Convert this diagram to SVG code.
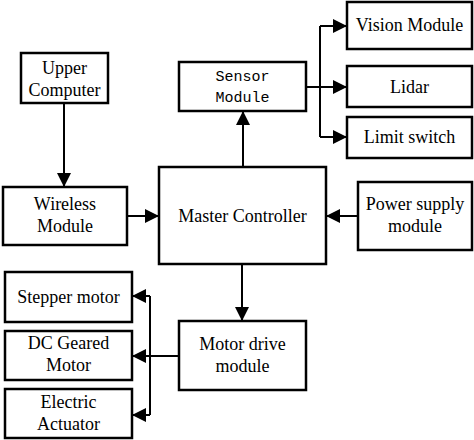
<svg xmlns="http://www.w3.org/2000/svg" width="474" height="440" viewBox="0 0 474 440">
<style>
.box{fill:#fff;stroke:#000;stroke-width:2.5}
.t{font-family:"Liberation Serif","Times New Roman",serif;font-size:18px;text-anchor:middle;fill:#000}
.m{font-family:"Liberation Mono","Courier New",monospace;font-size:15px;text-anchor:middle;fill:#000}
.c{fill:none;stroke:#000;stroke-width:2}
</style>
<defs>
<marker id="ah" viewBox="0 0 10 10" refX="10" refY="5" markerWidth="16" markerHeight="14" markerUnits="userSpaceOnUse" orient="auto">
<path d="M0,0 L10,5 L0,10 z" fill="#000"/>
</marker>
</defs>
<rect width="474" height="440" fill="#fff"/>
<g id="connectors">
<line class="c" x1="64" y1="103" x2="64" y2="187" marker-end="url(#ah)"/>
<line class="c" x1="127" y1="216" x2="159" y2="216" marker-end="url(#ah)"/>
<line class="c" x1="358" y1="216" x2="326" y2="216" marker-end="url(#ah)"/>
<line class="c" x1="243" y1="167" x2="243" y2="111" marker-end="url(#ah)"/>
<line class="c" x1="242" y1="264" x2="242" y2="321" marker-end="url(#ah)"/>
<path class="c" d="M306,87 H320"/>
<path class="c" d="M320,26 V137"/>
<line class="c" x1="320" y1="26" x2="347" y2="26" marker-end="url(#ah)"/>
<line class="c" x1="320" y1="87" x2="347" y2="87" marker-end="url(#ah)"/>
<line class="c" x1="320" y1="137" x2="347" y2="137" marker-end="url(#ah)"/>
<path class="c" d="M179,356 H150"/>
<path class="c" d="M150,296 V415"/>
<line class="c" x1="150" y1="296" x2="132" y2="296" marker-end="url(#ah)"/>
<line class="c" x1="150" y1="356" x2="132" y2="356" marker-end="url(#ah)"/>
<line class="c" x1="150" y1="415" x2="132" y2="415" marker-end="url(#ah)"/>
</g>
<g id="upper-computer">
<rect class="box" x="21" y="53" width="87" height="50"/>
<text class="t" x="64.5" y="74">Upper</text>
<text class="t" x="64.5" y="96">Computer</text>
</g>
<g id="sensor-module">
<rect class="box" x="179" y="62" width="127" height="49"/>
<text class="m" x="242.5" y="81">Sensor</text>
<text class="m" x="242.5" y="102">Module</text>
</g>
<g id="vision-module">
<rect class="box" x="347" y="2" width="125" height="47"/>
<text class="t" x="409.5" y="31">Vision Module</text>
</g>
<g id="lidar">
<rect class="box" x="347" y="66" width="125" height="41"/>
<text class="t" x="409.5" y="93">Lidar</text>
</g>
<g id="limit-switch">
<rect class="box" x="347" y="117" width="125" height="41"/>
<text class="t" x="409.5" y="143">Limit switch</text>
</g>
<g id="wireless-module">
<rect class="box" x="3" y="187" width="124" height="58"/>
<text class="t" x="65" y="210">Wireless</text>
<text class="t" x="65" y="232">Module</text>
</g>
<g id="master-controller">
<rect class="box" x="159" y="167" width="167" height="97"/>
<text class="t" x="242.5" y="222">Master Controller</text>
</g>
<g id="power-supply">
<rect class="box" x="358" y="182" width="114" height="68"/>
<text class="t" x="415" y="210">Power supply</text>
<text class="t" x="415" y="232">module</text>
</g>
<g id="motor-drive">
<rect class="box" x="179" y="321" width="127" height="69"/>
<text class="t" x="242.5" y="350">Motor drive</text>
<text class="t" x="242.5" y="372">module</text>
</g>
<g id="stepper-motor">
<rect class="box" x="5" y="272" width="127" height="50"/>
<text class="t" x="68.5" y="303">Stepper motor</text>
</g>
<g id="dc-geared-motor">
<rect class="box" x="5" y="331" width="127" height="49"/>
<text class="t" x="68.5" y="349">DC Geared</text>
<text class="t" x="68.5" y="371">Motor</text>
</g>
<g id="electric-actuator">
<rect class="box" x="5" y="389" width="127" height="49"/>
<text class="t" x="68.5" y="408">Electric</text>
<text class="t" x="68.5" y="430">Actuator</text>
</g>
</svg>
